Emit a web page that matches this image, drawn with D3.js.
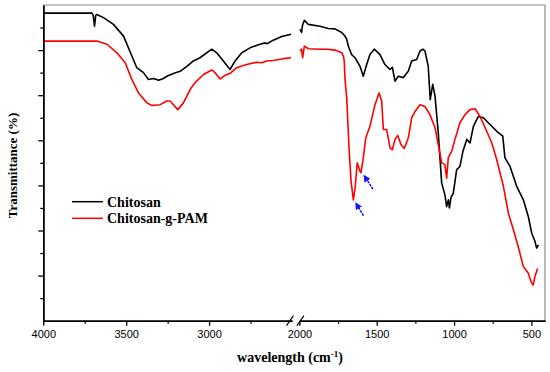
<!DOCTYPE html>
<html>
<head>
<meta charset="utf-8">
<script src="https://cdn.jsdelivr.net/npm/d3@7"></script>
<style>
  body { margin: 0; background: #fff; }
  svg { display: block; }
</style>
</head>
<body>
<svg id="chart" width="550" height="372"></svg>
<script>
(function(){
  'use strict';

  // Spectra: [wavenumber (cm-1), transmittance (a.u.)].
  // "High" is the 4000-2500 piece, "Low" the 2000-450 piece after the axis break.
  var chitosanHigh = [
    [4000,6.82],[3707,6.82],[3699,6.77],[3691,6.53],[3684,6.77],[3677,6.79],[3637,6.72],
    [3577,6.57],[3516,6.31],[3466,5.87],[3436,5.61],[3396,5.50],[3366,5.35],[3336,5.37],
    [3305,5.33],[3275,5.37],[3255,5.42],[3215,5.48],[3175,5.53],[3134,5.64],[3095,5.76],
    [3055,5.83],[2984,6.02],[2954,5.94],[2914,5.76],[2874,5.57],[2843,5.76],[2803,5.94],
    [2753,6.05],[2693,6.13],[2663,6.16],[2651,6.14],[2613,6.22],[2562,6.30],[2506,6.35]
  ];
  var chitosanLow = [
    [1996,6.46],[1986,6.39],[1980,6.55],[1968,6.66],[1942,6.57],[1867,6.53],[1813,6.48],
    [1770,6.47],[1726,6.39],[1705,6.31],[1694,6.24],[1684,6.09],[1662,5.90],[1640,5.83],
    [1608,5.64],[1587,5.42],[1565,5.68],[1544,5.90],[1516,6.02],[1479,5.90],[1447,5.68],
    [1414,5.57],[1399,5.62],[1382,5.31],[1361,5.42],[1328,5.39],[1296,5.53],[1274,5.76],
    [1242,5.79],[1220,5.98],[1201,6.02],[1188,5.98],[1167,5.64],[1154,4.90],[1138,5.24],
    [1123,4.98],[1102,4.16],[1080,3.05],[1059,2.79],[1048,2.53],[1037,2.68],[1030,2.50],
    [1020,2.73],[1005,2.83],[983,3.35],[962,3.42],[943,3.75],[918,4.02],[897,3.94],
    [875,4.31],[843,4.53],[811,4.50],[767,4.35],[724,4.20],[685,4.09],[671,3.61],
    [638,3.42],[595,2.98],[552,2.68],[520,2.31],[498,1.94],[477,1.76],[466,1.61],[455,1.68]
  ];
  var graftHigh = [
    [4000,6.20],[3677,6.20],[3616,6.13],[3556,5.94],[3506,5.72],[3466,5.35],[3426,5.05],
    [3375,4.83],[3345,4.77],[3295,4.79],[3255,4.87],[3235,4.87],[3215,4.79],[3189,4.68],
    [3155,4.83],[3134,4.98],[3114,5.13],[3084,5.28],[3034,5.46],[2984,5.56],[2964,5.50],
    [2934,5.36],[2904,5.44],[2874,5.48],[2834,5.61],[2774,5.68],[2713,5.73],[2681,5.72],
    [2653,5.76],[2613,5.77],[2553,5.81],[2506,5.83]
  ];
  var graftLow = [
    [1996,5.98],[1986,6.02],[1979,5.83],[1968,6.09],[1942,6.03],[1867,6.02],[1813,6.02],
    [1770,6.00],[1726,5.94],[1715,5.86],[1710,5.76],[1705,5.35],[1694,4.94],[1679,3.83],
    [1666,3.09],[1651,2.68],[1640,2.94],[1626,3.50],[1608,3.31],[1602,3.28],[1587,3.61],
    [1571,4.05],[1544,4.31],[1511,4.79],[1485,5.05],[1468,4.87],[1457,4.24],[1436,4.24],
    [1414,3.83],[1399,3.79],[1382,4.02],[1364,4.11],[1343,3.90],[1322,3.82],[1296,4.05],
    [1274,4.50],[1252,4.64],[1220,4.79],[1188,4.75],[1156,4.57],[1123,4.28],[1102,3.90],
    [1080,3.50],[1059,3.46],[1048,3.16],[1037,3.62],[1015,3.76],[994,4.02],[962,4.39],
    [929,4.57],[897,4.68],[864,4.70],[832,4.53],[789,4.20],[756,3.94],[724,3.57],
    [681,2.98],[649,2.39],[617,2.02],[585,1.64],[552,1.20],[520,1.05],[502,0.86],
    [489,0.79],[477,0.98],[460,1.16]
  ];

  var seriesNames = ['Chitosan', 'Chitosan-g-PAM'];
  var seriesColors = ['#000000', '#ff0000'];

  var highMajor = [4000, 3500, 3000];
  var highMinor = [3750, 3250, 2750];
  var lowMajor = [2000, 1500, 1000, 500];
  var lowMinor = [1750, 1250, 750];
  var yMajor = [1, 2, 3, 4, 5, 6];
  var yMinor = [0.5, 1.5, 2.5, 3.5, 4.5, 5.5, 6.5];

  // Arrows marking the amide bands: [tail, tip].
  var arrows = [
    [[1586, 2.33], [1634, 2.60]],
    [[1525, 2.92], [1580, 3.21]]
  ];

  var left = 43.3, right = 545, top = 5, bottom = 320.7;
  var breakL = 292, breakR = 299.4;

  var xHigh = d3.scaleLinear().domain([4000, 2500]).range([left, breakL]);
  var xLow = d3.scaleLinear().domain([2000, 412]).range([breakR, right]);
  var y = d3.scaleLinear().domain([0, 7]).range([bottom, top]);

  var svg = d3.select('#chart');
  var serif = '"Liberation Serif", "Times New Roman", serif';
  var sans = '"Liberation Sans", Arial, sans-serif';

  // Grey frame on top and right.
  svg.append('path')
    .attr('d', 'M' + left + ',' + top + 'H' + right + 'V' + bottom)
    .attr('fill', 'none').attr('stroke', '#8a8a8a').attr('stroke-width', 1.2);

  // Lines.
  var mkLine = function(scale) {
    return d3.line().x(function(d){ return scale(d[0]); }).y(function(d){ return y(d[1]); });
  };
  var pieces = [
    [chitosanHigh, xHigh, 0], [chitosanLow, xLow, 0],
    [graftHigh, xHigh, 1], [graftLow, xLow, 1]
  ];
  pieces.forEach(function(p) {
    svg.append('path')
      .datum(p[0])
      .attr('d', mkLine(p[1]))
      .attr('fill', 'none')
      .attr('stroke', seriesColors[p[2]])
      .attr('stroke-width', 1.6)
      .attr('stroke-linejoin', 'round');
  });

  // Y axis (no labels).
  var yAxisG = svg.append('g').attr('transform', 'translate(' + left + ',0)');
  yAxisG.call(d3.axisLeft(y).tickValues(yMajor).tickSize(5).tickSizeOuter(0).tickFormat(''));
  yAxisG.append('g').call(d3.axisLeft(y).tickValues(yMinor).tickSize(3).tickSizeOuter(0).tickFormat(''));
  yAxisG.selectAll('.domain').attr('stroke', '#000').attr('stroke-width', 1.5);
  yAxisG.selectAll('line').attr('stroke', '#000').attr('stroke-width', 1.3);

  // X axis, two pieces.
  var drawX = function(scale, major, minor) {
    var g = svg.append('g').attr('transform', 'translate(0,' + bottom + ')');
    g.call(d3.axisBottom(scale).tickValues(major).tickFormat(d3.format('d'))
      .tickSize(5).tickSizeOuter(0).tickPadding(5));
    g.append('g').call(d3.axisBottom(scale).tickValues(minor).tickSize(3).tickSizeOuter(0).tickFormat(''));
    g.selectAll('.domain').attr('stroke', '#000').attr('stroke-width', 1.5);
    g.selectAll('line').attr('stroke', '#000').attr('stroke-width', 1.3);
    g.selectAll('text')
      .attr('font-family', sans).attr('font-size', 11).attr('fill', '#000');
  };
  drawX(xHigh, highMajor, highMinor);
  drawX(xLow, lowMajor, lowMinor);

  // Break marks.
  [breakL - 2, breakR + 1].forEach(function(bx) {
    svg.append('line')
      .attr('x1', bx - 3.5).attr('y1', bottom + 5)
      .attr('x2', bx + 3.5).attr('y2', bottom - 5)
      .attr('stroke', '#000').attr('stroke-width', 1.2);
  });

  // Axis titles.
  var xt = svg.append('text')
    .attr('x', 290).attr('y', 362)
    .attr('text-anchor', 'middle')
    .attr('font-family', serif).attr('font-weight', 'bold').attr('font-size', 14);
  xt.append('tspan').text('wavelength (cm');
  xt.append('tspan').attr('dy', -5).attr('font-size', 9).text('-1');
  xt.append('tspan').attr('dy', 5).text(')');

  svg.append('text')
    .attr('transform', 'translate(16.5,165.5) rotate(-90)')
    .attr('text-anchor', 'middle')
    .attr('font-family', serif).attr('font-weight', 'bold').attr('font-size', 13)
    .text('Transmittance (%)');

  // Legend.
  var legend = svg.append('g').attr('transform', 'translate(72,201.7)');
  seriesNames.forEach(function(name, i) {
    legend.append('line')
      .attr('x1', 0).attr('x2', 31).attr('y1', i * 16.6).attr('y2', i * 16.6)
      .attr('stroke', seriesColors[i]).attr('stroke-width', 1.5);
    legend.append('text')
      .attr('x', 35).attr('y', i * 16.6 + 5)
      .attr('font-family', serif).attr('font-weight', 'bold').attr('font-size', 14)
      .text(name);
  });

  // Blue arrows.
  svg.append('defs').append('marker')
    .attr('id', 'head').attr('viewBox', '0 0 10 10')
    .attr('refX', 8).attr('refY', 5)
    .attr('markerWidth', 4.5).attr('markerHeight', 4.5)
    .attr('orient', 'auto')
    .append('path').attr('d', 'M0,0L10,5L0,10Z').attr('fill', '#1414ff');
  arrows.forEach(function(a) {
    svg.append('line')
      .attr('x1', xLow(a[0][0])).attr('y1', y(a[0][1]))
      .attr('x2', xLow(a[1][0])).attr('y2', y(a[1][1]))
      .attr('stroke', '#1414ff').attr('stroke-width', 1.6)
      .attr('stroke-dasharray', '2.5,1')
      .attr('marker-end', 'url(#head)');
  });
})();
</script>
</body>
</html>
